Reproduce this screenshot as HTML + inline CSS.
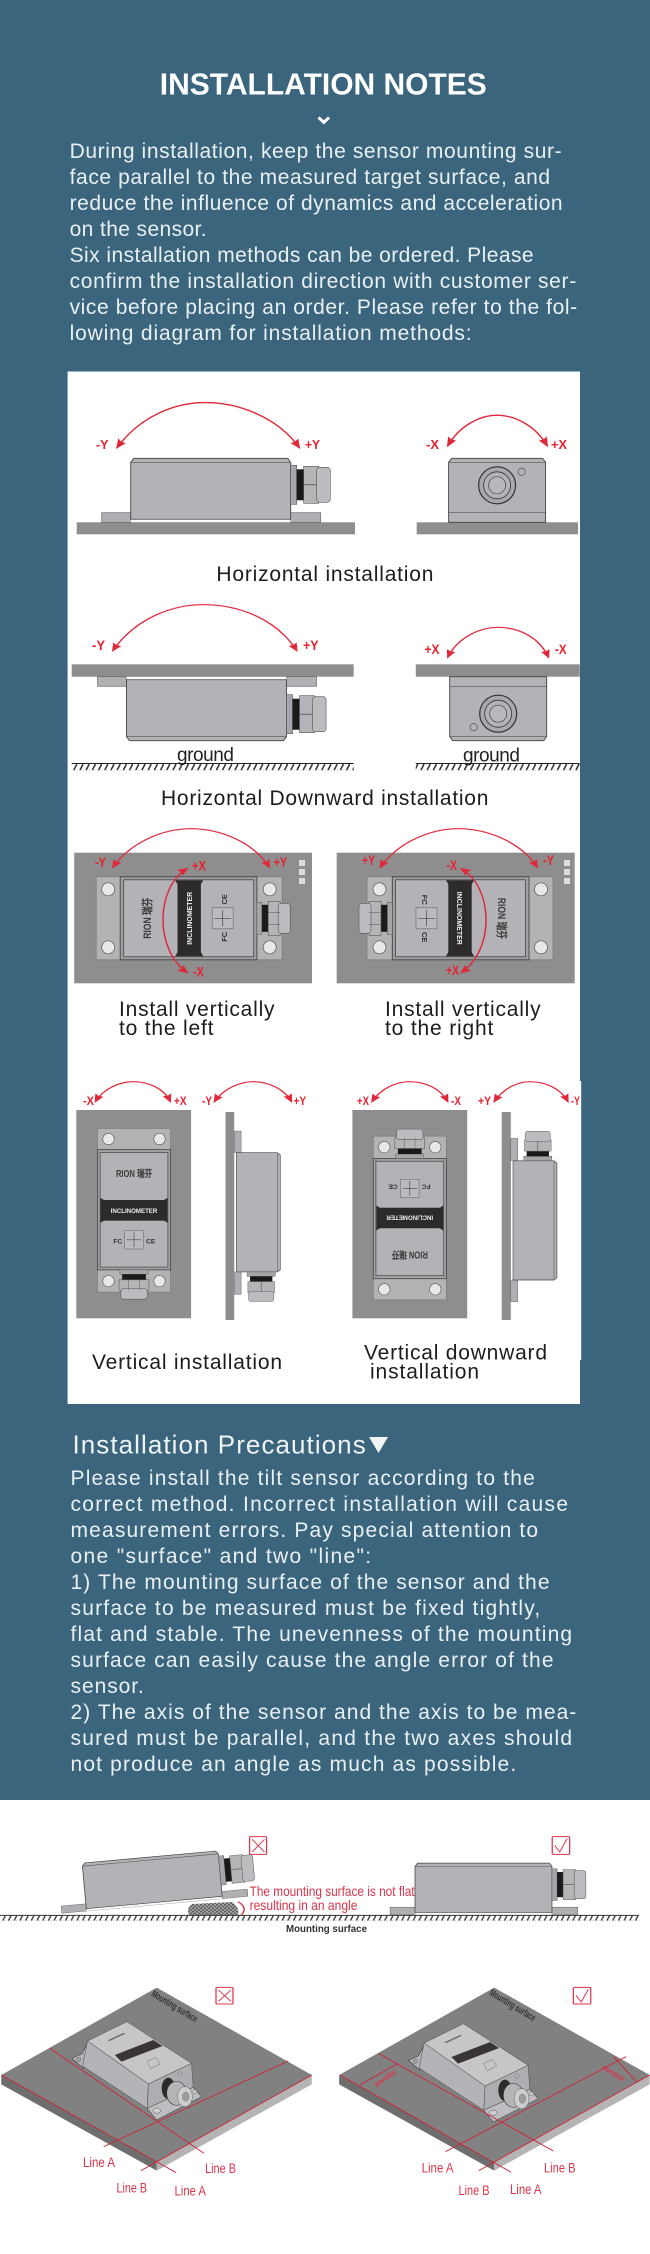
<!DOCTYPE html>
<html><head><meta charset="utf-8"><title>Installation Notes</title>
<style>
html,body{margin:0;padding:0;background:#3a657c;width:650px;height:2254px;overflow:hidden}
svg{display:block}
text{font-family:"Liberation Sans","DejaVu Sans",sans-serif}
.b{font-size:21px;fill:#e9f0f3}
.k{font-size:21px;fill:#1c1c1c}
.r{font-size:13px;fill:#e8202f;font-weight:bold}
.l{font-size:14px;fill:#d9344a}
.arc{fill:none;stroke:#e0283c;stroke-width:3.6;marker-start:url(#ah);marker-end:url(#ah)}
.rl{stroke:#c9283a;stroke-width:2.6;fill:none}
.cb{fill:#fff;stroke:#d9344a;stroke-width:3}
</style></head><body>
<svg width="650" height="2254" viewBox="0 0 650 2254" xmlns="http://www.w3.org/2000/svg">
<defs>
<marker id="ah" markerUnits="userSpaceOnUse" markerWidth="28" markerHeight="26" refX="22" refY="13" orient="auto-start-reverse"><path d="M0 2 L26 13 L0 24 L3 13 Z" fill="#e0283c"/></marker>
<pattern id="h1" patternUnits="userSpaceOnUse" x="71" y="763.3" width="6.2" height="7"><path d="M6.2 0 L2.7 7" stroke="#222" stroke-width="1.4"/></pattern>
<pattern id="h2" patternUnits="userSpaceOnUse" x="0" y="1915" width="5.7" height="5.7"><path d="M5.7 0 L2.7 5.7" stroke="#333" stroke-width="1.3"/></pattern>
<pattern id="deb" patternUnits="userSpaceOnUse" width="4" height="3.4"><rect width="4" height="3.4" fill="#a4a4a4"/><circle cx="1" cy=".9" r=".95" fill="#4c4c4c"/><circle cx="3" cy="2.6" r=".95" fill="#555"/></pattern>

<g id="side">
<rect x="-29" y="-9.6" width="219" height="9.6" fill="#b0b0b4" stroke="#6a6a6a" stroke-width=".7"/>
<path d="M0 -3 V-60 L3 -64 H157 L160 -60 V-3 Z" fill="#b2b2b7" stroke="#444" stroke-width=".9"/>
<path d="M0 -60 H160" stroke="#555" stroke-width=".7"/>
<rect x=".4" y="-2.6" width="159.2" height="2.6" fill="#fafafa"/>
<rect x="160" y="-57" width="6" height="39" fill="#a6a6aa" stroke="#555" stroke-width=".6"/>
<rect x="166" y="-53" width="7" height="31" fill="#1a1a1a"/>
<rect x="173" y="-56" width="15" height="37" fill="#b5b5b8" stroke="#555" stroke-width=".6"/>
<rect x="186" y="-55" width="13.6" height="35" rx="3" fill="#bcbcc0" stroke="#555" stroke-width=".6"/>
<path d="M173 -37.5 H186" stroke="#444" stroke-width=".7"/>
</g>

<g id="end">
<path d="M0 0 V-60 L3 -64 H94 L97 -60 V0 Z" fill="#b2b2b7" stroke="#444" stroke-width=".9"/>
<path d="M0 -60 H97 M0 -10 H97" stroke="#555" stroke-width=".7"/>
<circle cx="48.5" cy="-37" r="18.5" fill="#a8a8ad" stroke="#333" stroke-width="1.2"/>
<circle cx="48.5" cy="-37" r="13.5" fill="#b2b2b7" stroke="#333" stroke-width=".8"/>
<circle cx="48.5" cy="-37" r="8.5" fill="#b8b8bd" stroke="#444" stroke-width=".7"/>
<circle cx="73" cy="-50.5" r="3.7" fill="#b2b2b7" stroke="#555" stroke-width=".7"/>
</g>

<g id="dev">
<rect x="-93" y="-41.5" width="186" height="83" fill="#b3b3b6" stroke="#777" stroke-width=".7"/>
<rect x="-69" y="-41.5" width="136.7" height="83" fill="#a0a0a4" stroke="#444" stroke-width=".9"/>
<rect x="-65.5" y="-38.5" width="130" height="77" fill="#b2b2b7" stroke="#444" stroke-width=".8"/>
<path d="M-14 -38 H14 L11.7 -34 V34 L14 38 H-14 L-11.7 34 V-34 Z" fill="#2c2a2a"/>
<text x="0" y="0" transform="rotate(-90) translate(0,3)" text-anchor="middle" textLength="53" lengthAdjust="spacingAndGlyphs" font-size="7.5" font-weight="bold" fill="#eee">INCLINOMETER</text>
<text transform="translate(-38,0) rotate(-90)" text-anchor="middle" textLength="41" lengthAdjust="spacingAndGlyphs" font-size="11" font-weight="bold" fill="#3a3a3a">RION 瑞芬</text>
<rect x="23" y="-10.5" width="21" height="21" fill="#bbbbbf" stroke="#666" stroke-width=".6"/>
<path d="M33.5 -8 V8 M25 0 H42" stroke="#444" stroke-width=".7"/>
<text transform="translate(38,-19) rotate(-90)" text-anchor="middle" font-size="7.5" font-weight="bold" fill="#333">CE</text>
<text transform="translate(38,18.5) rotate(-90)" text-anchor="middle" font-size="7.5" font-weight="bold" fill="#333">FC</text>
<g fill="#e8e8e8" stroke="#555" stroke-width=".7">
<circle cx="-81" cy="-29" r="6.5"/><circle cx="-81" cy="29" r="6.5"/><circle cx="80.5" cy="-29" r="6.5"/><circle cx="80.5" cy="29" r="6.5"/>
</g>
<rect x="67.7" y="-16" width="5" height="32" fill="#a6a6aa" stroke="#555" stroke-width=".5"/>
<rect x="72.7" y="-13.5" width="6.3" height="27" fill="#1a1a1a"/>
<rect x="79" y="-17" width="12" height="34" fill="#b5b5b8" stroke="#555" stroke-width=".6"/>
<rect x="89" y="-15" width="12" height="30" rx="3" fill="#bcbcc0" stroke="#555" stroke-width=".6"/>
<path d="M79 -6 H91 M79 6 H91" stroke="#555" stroke-width=".5"/>
</g>

<g id="iso">
<path d="M173 775 L197 762 L211 730 L201 805 Z" fill="#b2b2b7" stroke="#333" stroke-width="1.5"/>
<ellipse cx="190" cy="778" rx="5" ry="6" fill="#a0a0a4" stroke="#444" stroke-width="1"/>
<path d="M211 723 L306 665 L462 790 L358 852 Z" fill="#c6c6c9" stroke="#555" stroke-width="1.4"/>
<path d="M211 723 L358 852 L355 925 L199 798 Z" fill="#b4b4b8" stroke="#555" stroke-width="1.4"/>
<path d="M358 852 L462 790 L466 862 L355 925 Z" fill="#aeaeb2" stroke="#555" stroke-width="1.4"/>
<path d="M355 925 L466 862 L486 890 L378 960 Z" fill="#bebec2" stroke="#444" stroke-width="1.5"/>
<path d="M277 765 L370 720 L392 738 L293 785 Z" fill="#3a3534"/>
<path d="M354 785 L376 772 L386 792 L364 806 Z" fill="none" stroke="#666" stroke-width="1.2"/>
<path d="M262 722 L300 700" stroke="#666" stroke-width="4"/>
<ellipse cx="378" cy="932" rx="9" ry="8" fill="#cfcfcf" stroke="#444" stroke-width="1.2"/>
<ellipse cx="470" cy="875" rx="5" ry="5" fill="#cfcfcf" stroke="#555" stroke-width="1"/>
<ellipse cx="434" cy="822" rx="5" ry="7" fill="none" stroke="#666" stroke-width="1"/>
<ellipse cx="406" cy="865" rx="16" ry="32" fill="#2b2b2b"/>
<ellipse cx="426" cy="880" rx="24" ry="36" fill="#b5b5b8" stroke="#333" stroke-width="1.5"/>
<ellipse cx="446" cy="890" rx="18" ry="30" fill="#cdcdd0" stroke="#555" stroke-width="1.2"/>
<ellipse cx="448" cy="890" rx="8" ry="14" fill="#9c9c9f" stroke="#666" stroke-width="1"/>
</g>
</defs>

<rect width="650" height="2254" fill="#3a657c"/>

<text x="323.3" y="94.5" text-anchor="middle" font-size="31" font-weight="bold" fill="#fff" textLength="327" lengthAdjust="spacingAndGlyphs">INSTALLATION NOTES</text>
<path d="M318.5 117.5 L323.8 122.3 L329.1 117.5" fill="none" stroke="#fff" stroke-width="3"/>

<text class="b" x="69.6" y="158" textLength="492">During installation, keep the sensor mounting sur-</text>
<text class="b" x="69.6" y="184" textLength="480.5">face parallel to the measured target surface, and</text>
<text class="b" x="69.6" y="210" textLength="493">reduce the influence of dynamics and acceleration</text>
<text class="b" x="69.6" y="236" textLength="137">on the sensor.</text>
<text class="b" x="69.6" y="262" textLength="464">Six installation methods can be ordered. Please</text>
<text class="b" x="69.6" y="288" textLength="506.6">confirm the installation direction with customer ser-</text>
<text class="b" x="69.6" y="314" textLength="507.5">vice before placing an order. Please refer to the fol-</text>
<text class="b" x="69.6" y="340" textLength="402">lowing diagram for installation methods:</text>

<!-- white panel -->
<rect x="67.6" y="371.5" width="512.4" height="1032.5" fill="#fff"/>
<rect x="580" y="1081" width="1.2" height="279" fill="#fff"/>

<!-- Row 1 -->
<rect x="76.7" y="522.3" width="278.3" height="12" fill="#8e8e8e"/>
<rect x="416.7" y="522.3" width="161.3" height="12" fill="#8e8e8e"/>
<use href="#side" transform="translate(130.7,522.3)"/>
<use href="#end" transform="translate(448.6,522.3)"/>
<g transform="scale(.41458,.3827)">
<path class="arc" d="M282 1170 C340 1085 425 1052 495 1052 C575 1052 670 1090 722 1170"/>
<path class="arc" d="M1080 1165 C1110 1110 1160 1085 1198 1085 C1240 1085 1290 1110 1320 1165"/>
</g>
<text class="r" x="96" y="449" textLength="12.5" lengthAdjust="spacingAndGlyphs">-Y</text>
<text class="r" x="305" y="449" textLength="15" lengthAdjust="spacingAndGlyphs">+Y</text>
<text class="r" x="426" y="449" textLength="13" lengthAdjust="spacingAndGlyphs">-X</text>
<text class="r" x="551" y="449" textLength="16" lengthAdjust="spacingAndGlyphs">+X</text>
<text class="k" x="216.4" y="580.8" textLength="217">Horizontal installation</text>

<!-- Row 2 -->
<rect x="71.7" y="664.3" width="282" height="12.4" fill="#8e8e8e"/>
<rect x="415.8" y="664.3" width="164" height="12.4" fill="#8e8e8e"/>
<use href="#side" transform="translate(126.5,676.7) scale(1,-1)"/>
<use href="#end" transform="translate(546.7,676.7) scale(-1,-1)"/>
<g transform="translate(0,600) scale(.41458,.33333)">
<path class="arc" d="M272 152 C330 50 420 14 490 14 C575 14 665 55 716 152"/>
<path class="arc" d="M1080 172 C1105 110 1160 82 1200 82 C1250 82 1300 110 1323 172"/>
</g>
<text class="r" x="92" y="650" style="font-size:14px" textLength="13" lengthAdjust="spacingAndGlyphs">-Y</text>
<text class="r" x="303" y="650" style="font-size:14px" textLength="15.5" lengthAdjust="spacingAndGlyphs">+Y</text>
<text class="r" x="424.5" y="654" style="font-size:14px" textLength="15" lengthAdjust="spacingAndGlyphs">+X</text>
<text class="r" x="555" y="654" style="font-size:14px" textLength="11.5" lengthAdjust="spacingAndGlyphs">-X</text>
<text x="177" y="761" font-size="19" fill="#222" textLength="57">ground</text>
<text x="463" y="761.7" font-size="19" fill="#222" textLength="57">ground</text>
<path d="M71.7 763.5 H353.6 M415.8 763.5 H579.6" stroke="#222" stroke-width="1.1"/>
<rect x="71.7" y="763.5" width="282" height="7" fill="url(#h1)"/>
<rect x="415.8" y="763.5" width="163.8" height="7" fill="url(#h1)"/>
<text class="k" x="161" y="805" textLength="327.4">Horizontal Downward installation</text>

<!-- Row 3 -->
<rect x="74.2" y="852.7" width="237.8" height="130.6" fill="#8e8e8e"/>
<rect x="336.7" y="852.7" width="238" height="130.6" fill="#8e8e8e"/>
<g fill="#dcdcdc">
<rect x="299" y="860" width="6" height="6"/><rect x="299" y="869" width="6" height="6"/><rect x="299" y="878" width="6" height="6"/>
<rect x="564" y="860" width="6" height="6"/><rect x="564" y="869" width="6" height="6"/><rect x="564" y="878" width="6" height="6"/>
</g>
<use href="#dev" transform="translate(189.2,918.3)"/>
<use href="#dev" transform="translate(460,918.3) rotate(180)"/>
<g transform="translate(0,600) scale(.41458,.33333)">
<path class="arc" d="M272 802 C320 720 400 686 460 686 C530 686 610 725 650 802"/>
<path class="arc" d="M917 802 C965 720 1045 686 1105 686 C1175 686 1255 725 1296 802"/>
<path class="arc" d="M452 806 C375 860 372 1050 452 1118"/>
<path class="arc" d="M1112 806 C1190 860 1195 1050 1112 1118"/>
</g>
<text class="r" x="95" y="867" style="font-size:14px" textLength="11" lengthAdjust="spacingAndGlyphs">-Y</text>
<text class="r" x="273.6" y="867" style="font-size:14px" textLength="13.5" lengthAdjust="spacingAndGlyphs">+Y</text>
<text class="r" x="192" y="870.7" style="font-size:14px" textLength="14" lengthAdjust="spacingAndGlyphs">+X</text>
<text class="r" x="193" y="976.7" style="font-size:14px" textLength="11" lengthAdjust="spacingAndGlyphs">-X</text>
<text class="r" x="362" y="865" style="font-size:14px" textLength="13" lengthAdjust="spacingAndGlyphs">+Y</text>
<text class="r" x="543" y="865" style="font-size:14px" textLength="11" lengthAdjust="spacingAndGlyphs">-Y</text>
<text class="r" x="446.5" y="870" style="font-size:14px" textLength="10.5" lengthAdjust="spacingAndGlyphs">-X</text>
<text class="r" x="446" y="975" style="font-size:14px" textLength="13" lengthAdjust="spacingAndGlyphs">+X</text>
<text class="k" x="119" y="1016" textLength="155.5">Install vertically</text>
<text class="k" x="119" y="1035" textLength="94.5">to the left</text>
<text class="k" x="385" y="1016" textLength="155.6">Install vertically</text>
<text class="k" x="385" y="1035" textLength="108.4">to the right</text>

<!-- Row 4 -->
<rect x="76.3" y="1110" width="114.8" height="208.3" fill="#8e8e8e"/>
<rect x="225.5" y="1112" width="8.7" height="208" fill="#8e8e8e"/>
<rect x="352.4" y="1110" width="114.8" height="208.3" fill="#8e8e8e"/>
<rect x="501.7" y="1112" width="9.1" height="208" fill="#8e8e8e"/>
<use href="#dev" transform="translate(134,1210.3) rotate(90) scale(.88)"/>
<use href="#dev" transform="translate(409.8,1218) rotate(-90) scale(.88)"/>
<use href="#side" transform="translate(234.2,1152.7) rotate(90) scale(.745,.72)"/>
<use href="#side" transform="translate(510.8,1280) rotate(-90) scale(.745,-.72)"/>
<g transform="translate(0,1050) scale(.41458,.33333)">
<path class="arc" d="M230 155 C250 115 290 95 322 95 C358 95 395 115 411 155"/>
<path class="arc" d="M517 155 C540 115 580 95 610 95 C645 95 685 115 703 155"/>
<path class="arc" d="M897 155 C920 115 955 95 988 95 C1025 95 1062 115 1080 155"/>
<path class="arc" d="M1192 155 C1215 115 1248 95 1278 95 C1315 95 1352 115 1370 155"/>
</g>
<text class="r" x="83" y="1105" style="font-size:12px" textLength="11" lengthAdjust="spacingAndGlyphs">-X</text>
<text class="r" x="174" y="1105" style="font-size:12px" textLength="12.6" lengthAdjust="spacingAndGlyphs">+X</text>
<text class="r" x="202" y="1105" style="font-size:12px" textLength="10" lengthAdjust="spacingAndGlyphs">-Y</text>
<text class="r" x="293.5" y="1105" style="font-size:12px" textLength="12.5" lengthAdjust="spacingAndGlyphs">+Y</text>
<text class="r" x="357" y="1105" style="font-size:12px" textLength="12" lengthAdjust="spacingAndGlyphs">+X</text>
<text class="r" x="451" y="1105" style="font-size:12px" textLength="10" lengthAdjust="spacingAndGlyphs">-X</text>
<text class="r" x="478" y="1105" style="font-size:12px" textLength="13" lengthAdjust="spacingAndGlyphs">+Y</text>
<text class="r" x="571" y="1105" style="font-size:12px" textLength="9" lengthAdjust="spacingAndGlyphs">-Y</text>
<text class="k" x="92" y="1369" textLength="190">Vertical installation</text>
<text class="k" x="364" y="1359.3" textLength="183">Vertical downward</text>
<text class="k" x="370" y="1378.7" textLength="109">installation</text>

<!-- Precautions -->
<text x="72.5" y="1453.3" font-size="26" fill="#eef3f5" textLength="293.2">Installation Precautions</text>
<path d="M369 1437 H388 L378.5 1453 Z" fill="#f2f5f6"/>
<text class="b" x="70.5" y="1485" textLength="464.3">Please install the tilt sensor according to the</text>
<text class="b" x="70.5" y="1511" textLength="497.5">correct method. Incorrect installation will cause</text>
<text class="b" x="70.5" y="1537" textLength="467.6">measurement errors. Pay special attention to</text>
<text class="b" x="70.5" y="1563" textLength="300.6">one "surface" and two "line":</text>
<text class="b" x="70.5" y="1589" textLength="479">1) The mounting surface of the sensor and the</text>
<text class="b" x="70.5" y="1615" textLength="469.7">surface to be measured must be fixed tightly,</text>
<text class="b" x="70.5" y="1641" textLength="501.6">flat and stable. The unevenness of the mounting</text>
<text class="b" x="70.5" y="1667" textLength="483">surface can easily cause the angle error of the</text>
<text class="b" x="70.5" y="1693" textLength="73.4">sensor.</text>
<text class="b" x="70.5" y="1719" textLength="505.8">2) The axis of the sensor and the axis to be mea-</text>
<text class="b" x="70.5" y="1745" textLength="501.6">sured must be parallel, and the two axes should</text>
<text class="b" x="70.5" y="1771" textLength="445.7">not produce an angle as much as possible.</text>

<!-- White lower section -->
<rect x="0" y="1800" width="650" height="454" fill="#fff"/>

<path d="M189 1915 Q186 1908 192 1904 L232 1902 Q240 1908 238 1915 Z" fill="url(#deb)"/>
<use href="#side" transform="translate(86.5,1911) rotate(-5.2) scale(.853,.75)"/>
<use href="#side" transform="translate(415,1915) scale(.856,.81)"/>
<path d="M0 1915.4 H639" stroke="#333" stroke-width="1"/>
<rect x="0" y="1915.4" width="639" height="5.7" fill="url(#h2)"/>
<text x="286" y="1932" font-size="10.5" font-weight="bold" fill="#333" textLength="81" lengthAdjust="spacingAndGlyphs">Mounting surface</text>
<text class="l" x="249.6" y="1896" textLength="165" lengthAdjust="spacingAndGlyphs">The mounting surface is not flat</text>
<text class="l" x="249.6" y="1910" textLength="107.8" lengthAdjust="spacingAndGlyphs">resulting in an angle</text>

<g transform="translate(0,1800) scale(.41458,.33333)">
<path d="M574 305 C595 320 590 335 582 345" fill="none" stroke="#d9344a" stroke-width="3.5"/>
<rect class="cb" x="602" y="110" width="41" height="53" rx="3"/>
<path d="M608 118 L638 156 M638 118 L608 156" stroke="#d9344a" stroke-width="2.5"/>
<rect class="cb" x="1332" y="110" width="42" height="53" rx="3"/>
<path d="M1338 136 L1350 156 L1368 116" fill="none" stroke="#d9344a" stroke-width="2.5"/>
<rect class="cb" x="521" y="562" width="41" height="50" rx="3"/>
<path d="M527 570 L557 604 M557 570 L527 604" stroke="#d9344a" stroke-width="2.5"/>
<rect class="cb" x="1383" y="562" width="42" height="50" rx="3"/>
<path d="M1389 586 L1402 606 L1419 568" fill="none" stroke="#d9344a" stroke-width="2.5"/>

<!-- left iso plate -->
<path d="M3 825 L378 1085 V1112 L3 853 Z" fill="#6e6e6e"/>
<path d="M378 1085 L752 825 V853 L378 1112 Z" fill="#b4b4b4"/>
<path d="M378 563 L752 825 L378 1085 L3 825 Z" fill="#828181"/>
<use href="#iso"/>
<path class="rl" d="M120 745 L492 1060 M3 825 L425 1118 M695 783 L250 1040 M752 825 L340 1112"/>

<!-- right iso plate -->
<path d="M818 825 L1192 1085 V1112 L818 853 Z" fill="#6e6e6e"/>
<path d="M1192 1085 L1567 825 V853 L1192 1112 Z" fill="#b4b4b4"/>
<path d="M1192 563 L1567 825 L1192 1085 L818 825 Z" fill="#828181"/>
<use href="#iso" transform="translate(812,6)"/>
<path class="rl" d="M912 760 L1335 1053 M820 825 L1233 1117 M1510 770 L1075 1055 M1567 825 L1155 1112 M960 790 L868 855 M1480 770 L1535 845"/>
</g>
<text transform="translate(173,2009) rotate(31)" text-anchor="middle" font-size="10" font-weight="bold" fill="#333" textLength="52" lengthAdjust="spacingAndGlyphs">Mounting surface</text>
<text transform="translate(511,2008) rotate(31)" text-anchor="middle" font-size="10" font-weight="bold" fill="#333" textLength="52" lengthAdjust="spacingAndGlyphs">Mounting surface</text>
<text transform="translate(386.5,2080) rotate(-33)" text-anchor="middle" font-size="7" font-weight="bold" fill="#d9344a">parallel</text>
<text transform="translate(612,2075) rotate(33)" text-anchor="middle" font-size="7" font-weight="bold" fill="#d9344a">parallel</text>
<text class="l" x="83" y="2167" textLength="32" lengthAdjust="spacingAndGlyphs">Line A</text>
<text class="l" x="205" y="2173" textLength="31" lengthAdjust="spacingAndGlyphs">Line B</text>
<text class="l" x="116.5" y="2192.7" textLength="30.5" lengthAdjust="spacingAndGlyphs">Line B</text>
<text class="l" x="174.5" y="2195.3" textLength="31.5" lengthAdjust="spacingAndGlyphs">Line A</text>
<text class="l" x="421.6" y="2172.7" textLength="32" lengthAdjust="spacingAndGlyphs">Line A</text>
<text class="l" x="544" y="2172.7" textLength="31.5" lengthAdjust="spacingAndGlyphs">Line B</text>
<text class="l" x="458.5" y="2195" textLength="31" lengthAdjust="spacingAndGlyphs">Line B</text>
<text class="l" x="510" y="2194" textLength="31.5" lengthAdjust="spacingAndGlyphs">Line A</text>
</svg>
</body></html>
